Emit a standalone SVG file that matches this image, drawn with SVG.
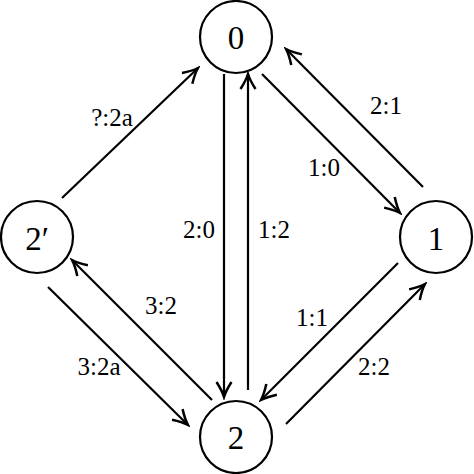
<svg xmlns="http://www.w3.org/2000/svg" width="474" height="474" viewBox="0 0 474 474">
<style>
.node circle{fill:#fff;stroke:#000;stroke-width:2.2}
.nl{font-family:"Liberation Serif","DejaVu Serif",serif;font-size:33px;text-anchor:middle;fill:#000}
.el{font-family:"Liberation Serif","DejaVu Serif",serif;font-size:25px;text-anchor:middle;fill:#000}
#edges line{stroke:#000;stroke-width:2.2;marker-end:url(#arr)}
</style>
<defs>
<marker id="arr" markerUnits="userSpaceOnUse" markerWidth="20" markerHeight="20" viewBox="-14 -8 16 16" refX="0" refY="0" orient="auto">
<path d="M-12,-6 Q-5,-1.5 0,0 Q-5,1.5 -12,6" fill="none" stroke="#000" stroke-width="2"/>
</marker>
</defs>
<g id="edges">
<line x1="62" y1="198" x2="198" y2="68"/>
<line x1="262" y1="74" x2="400" y2="213"/>
<line x1="423" y1="187" x2="286" y2="49"/>
<line x1="224" y1="74" x2="224" y2="397"/>
<line x1="248" y1="390" x2="248" y2="74"/>
<line x1="398" y1="263" x2="261" y2="400"/>
<line x1="286" y1="424" x2="425" y2="284"/>
<line x1="48" y1="287" x2="188" y2="425"/>
<line x1="212" y1="400" x2="72" y2="260"/>
</g>
<g id="edge-labels">
<text class="el" x="112" y="126">?:2a</text>
<text class="el" x="386" y="114">2:1</text>
<text class="el" x="324" y="176">1:0</text>
<text class="el" x="199" y="238">2:0</text>
<text class="el" x="274" y="238">1:2</text>
<text class="el" x="161" y="314">3:2</text>
<text class="el" x="99" y="375">3:2a</text>
<text class="el" x="312" y="326">1:1</text>
<text class="el" x="374" y="375">2:2</text>
</g>
<g id="n0" class="node"><circle cx="236" cy="37" r="36"/><text class="nl" x="236" y="49">0</text></g>
<g id="n2p" class="node"><circle cx="37" cy="237" r="36"/><text class="nl" x="37" y="250">2′</text></g>
<g id="n1" class="node"><circle cx="436" cy="237" r="36"/><text class="nl" x="436" y="250">1</text></g>
<g id="n2" class="node"><circle cx="236" cy="437" r="36"/><text class="nl" x="236" y="449">2</text></g>
</svg>
